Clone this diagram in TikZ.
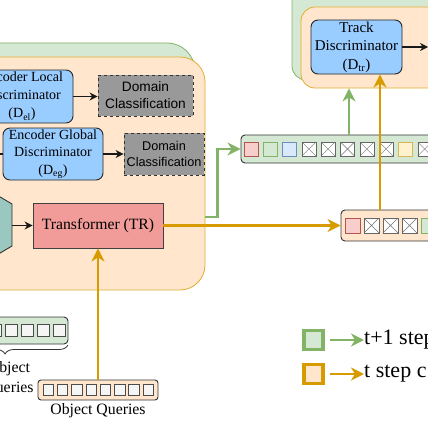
\documentclass[tikz,border=0pt]{standalone}
\usepackage{fontspec}
\setmainfont{Liberation Serif}
\newfontfamily\domfont{Liberation Sans}
\usetikzlibrary{arrows.meta,positioning,decorations.pathreplacing}

\definecolor{panelor}{HTML}{FFE6CC}
\definecolor{edgeor}{HTML}{D79B00}
\definecolor{panelgr}{HTML}{D5E8D4}
\definecolor{edgegr}{HTML}{82B366}
\definecolor{discblue}{HTML}{99CCFF}
\definecolor{trpink}{HTML}{F19C99}
\definecolor{encteal}{HTML}{9AC7BF}
\definecolor{tokpink}{HTML}{F8CECC}
\definecolor{tokpinkd}{HTML}{B85450}
\definecolor{tokblue}{HTML}{DAE8FC}
\definecolor{tokblued}{HTML}{6C8EBF}
\definecolor{tokyel}{HTML}{FFF2CC}
\definecolor{tokyeld}{HTML}{D6B656}

\begin{document}
\begin{tikzpicture}[x=1pt, y=-1pt,
    panel/.style = {draw=edgeor!80, fill=panelor, rounded corners=25pt, line width=0.8pt},
    gpanel/.style = {draw=edgegr, fill=panelgr, rounded corners=28pt, line width=0.8pt},
    disc/.style = {draw=black!85, fill=discblue, rounded corners=7pt, line width=0.9pt, align=center, inner sep=1pt},
    dom/.style = {draw=black!80, dashed, fill=black!40, align=center, inner sep=1pt, line width=0.9pt},
    trbox/.style = {draw=black!75, fill=trpink, line width=0.9pt, minimum width=130pt, minimum height=45pt, font=\fontsize{15.7}{18}\selectfont},
    row/.style = {draw=black!80, rounded corners=4pt, line width=0.9pt},
    qsq/.style = {draw=black!70, fill=black!4, minimum size=10.5pt, inner sep=0pt, line width=0.8pt},
    tokpk/.style = {draw=tokpinkd, fill=tokpink, minimum size=14pt, inner sep=0pt},
    tokgr/.style = {draw=edgegr, fill=panelgr, minimum size=14pt, inner sep=0pt},
    tokbl/.style = {draw=tokblued, fill=tokblue, minimum size=14pt, inner sep=0pt},
    tokye/.style = {draw=tokyeld, fill=tokyel, minimum size=14pt, inner sep=0pt},
    tokx/.style = {draw=black!60, fill=white, minimum size=14pt, inner sep=0pt,
        path picture={\draw[black!55] (path picture bounding box.north west) -- (path picture bounding box.south east)
            (path picture bounding box.south west) -- (path picture bounding box.north east);}},
    karrow/.style = {draw=black!90, line width=1.1pt, -{Stealth[length=8pt,width=8pt]}},
    garrow/.style = {draw=edgegr, line width=2.8pt, -{Stealth[length=13pt,width=13pt,inset=4pt]}},
    oarrow/.style = {draw=edgeor, line width=2.8pt, -{Stealth[length=13pt,width=13pt,inset=4pt]}},
    legsq/.style = {line width=3.5pt, minimum size=19pt, inner sep=0pt}
]
\useasboundingbox (0,0) rectangle (428,428);
\clip (0,0) rectangle (428,428);

% panels (t+1 behind, t in front)
\node[gpanel, minimum width=235pt, minimum height=237pt] (egp) at (77.5,161.5) {};
\node[panel, minimum width=245pt, minimum height=233pt] (ep) at (82.5,173.5) {};
\node[gpanel, rounded corners=14pt, minimum width=188pt, minimum height=110pt] (tgp) at (386,25) {};
\node[panel, rounded corners=14pt, minimum width=179pt, minimum height=81pt] (tp) at (390.5,47.5) {};

% discriminators
\node[disc, minimum width=102pt, minimum height=53pt, font=\fontsize{14}{18}\selectfont] (el) at (22,96.5)
    {Encoder Local\\Discriminator\\(D\textsubscript{el})};
\node[dom, minimum width=95pt, minimum height=41pt, font=\domfont\fontsize{13.7}{17}\selectfont] (dc1) at (145.5,95.5)
    {Domain\\Classification};
\node[disc, minimum width=100pt, minimum height=52pt, font=\fontsize{14}{17.5}\selectfont] (eg) at (53,154)
    {Encoder Global\\Discriminator\\(D\textsubscript{eg})};
\node[dom, minimum width=80pt, minimum height=42pt, font=\domfont\fontsize{12.7}{16}\selectfont] (dc2) at (164,154)
    {Domain\\Classification};
\node[disc, minimum width=91pt, minimum height=54pt, font=\fontsize{15}{18.5}\selectfont] (trk) at (356.5,47)
    {Track\\Discriminator\\(D\textsubscript{tr})};

\draw[karrow] (el.east) -- (el.east -| dc1.west);
\draw[karrow] (eg.east) -- (dc2.west);
\coordinate (bbin) at (-10,154);
\draw[black!90, line width=1.1pt] (bbin) -- (eg.west);

% encoder and transformer
\fill[encteal, draw=black!80, line width=0.9pt] (-20,185) -- (12,204) -- (12,246) -- (-20,265) -- cycle;
\coordinate (encout) at (12,225.5);
\node[trbox] (tr) at (98,225.5) {Transformer (TR)};
\draw[karrow] (encout) -- (tr.west);

% object queries
\node[row, fill=panelor, rounded corners=3pt, minimum width=120pt, minimum height=20pt] (oq) at (98,390) {};
\foreach \i in {0,...,7}
    \node[qsq] (q\i) at ({48.3+14.3*\i},390) {};
\node[below=0pt of oq, font=\fontsize{15.8}{19}\selectfont] (oqlab) {Object Queries};

\node[row, fill=panelgr, minimum width=108pt, minimum height=27pt] (lq) at (14,330.5) {};
\foreach \i in {0,...,4}
    \node[qsq, minimum size=12pt] (l\i) at ({-5+16*\i},330.5) {};
\draw[black!80, line width=0.8pt, decorate, decoration={brace, mirror, amplitude=9pt}] (-58,345) -- (68,345);
\node[align=center, font=\fontsize{15.8}{20}\selectfont] (lqlab) at (9,378) {Object\\Queries};

% token rows
\node[row, fill=panelgr, minimum width=239pt, minimum height=28pt] (uprow) at (360.5,149) {};
\foreach \tk [count=\i] in {pk,gr,bl,x,x,x,x,x,ye,x,x}
    \node[tok\tk] (u\i) at ({251+19.3*(\i-1)},149) {};
\node[row, fill=panelor, minimum width=139pt, minimum height=31pt] (lorow) at (410.5,225.5) {};
\foreach \tk [count=\i] in {pk,x,x,x,gr,x}
    \node[tok\tk, minimum size=15pt] (w\i) at ({352.5+19*(\i-1)},225.5) {};

% connections
\draw[oarrow] (oq.north) -- (tr.south);
\draw[oarrow] (tr.east) -- (lorow.west);
\draw[garrow] (ep.east |- 0,217) -- ++(12,0) |- (uprow.west);
\draw[garrow] (uprow.north -| 349,0) -- (tp.south -| 349,0);
\draw[oarrow] (lorow.north -| 380,0) -- (trk.south -| 380,0);
\coordinate (trkout) at (428,47);
\draw[karrow] (trk.east) -- (trkout);

% legend
\node[legsq, draw=edgegr, fill=panelgr] (lg1) at (313.5,340) {};
\node[anchor=west, inner sep=0pt, font=\fontsize{22}{24}\selectfont] (lg1t) at (364,340) {t+1 step};
\draw[garrow, line width=2.2pt, shorten <=5pt] (lg1.east) -- (lg1t.west);
\node[legsq, draw=edgeor, fill=panelor] (lg2) at (313.5,374) {};
\node[anchor=west, inner sep=0pt, font=\fontsize{22}{24}\selectfont] (lg2t) at (364,374) {t step c};
\draw[oarrow, line width=2.2pt, shorten <=5pt] (lg2.east) -- (lg2t.west);
\end{tikzpicture}
\end{document}
